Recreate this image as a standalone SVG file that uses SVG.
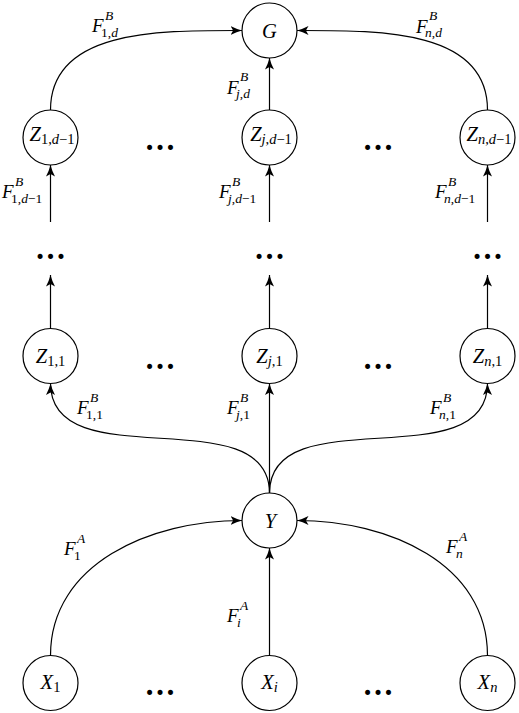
<svg xmlns="http://www.w3.org/2000/svg" width="519" height="713" viewBox="0 0 519 713">
<style>
.n{fill:#fff;stroke:#000;stroke-width:1.2}
.e{fill:none;stroke:#000;stroke-width:1.2;marker-end:url(#ah)}
text{font-family:"Liberation Serif","Times New Roman",serif;font-size:19px;fill:#000}
.nl{font-size:20.5px}
.it{font-style:italic}
.s{font-size:13.5px}
.ns{font-size:14.5px}
.m{text-anchor:middle}
.dots{font-family:"Liberation Serif",serif;font-weight:bold;font-size:31px;text-anchor:middle}
</style>
<defs>
<marker id="ah" markerUnits="userSpaceOnUse" markerWidth="12" markerHeight="10" viewBox="0 0 12 10" refX="11.5" refY="5" orient="auto">
<path d="M0,0.5 Q6,3.6 11.5,5 Q6,6.4 0,9.5 L2.6,5 Z" fill="#000"/>
</marker>
</defs>
<rect width="519" height="713" fill="#fff"/>
<g id="connectors">
<path class="e" d="M50.5,110 C50.5,28.8 160.8,30.5 242,30.5"/>
<path class="e" d="M487.5,110 C487.5,28.8 378.2,30.5 297,30.5"/>
<path class="e" d="M269.5,110 L269.5,58"/>
<path class="e" d="M50.5,222 L50.5,165"/>
<path class="e" d="M269.5,222 L269.5,165"/>
<path class="e" d="M487.5,222 L487.5,165"/>
<path class="e" d="M50.5,328.5 L50.5,275"/>
<path class="e" d="M269.5,328.5 L269.5,275"/>
<path class="e" d="M487.5,328.5 L487.5,275"/>
<path class="e" d="M269.5,493 C269.5,397.1 50.5,479.4 50.5,383.5"/>
<path class="e" d="M269.5,493 C269.5,397.1 487.5,479.4 487.5,383.5"/>
<path class="e" d="M269.5,493 L269.5,383.5"/>
<path class="e" d="M50.5,655.5 C50.5,563.8 150.3,520.5 242,520.5"/>
<path class="e" d="M487.5,655.5 C487.5,563.8 388.7,520.5 297,520.5"/>
<path class="e" d="M269.5,655.5 L269.5,548"/>
</g>
<g id="node-G"><circle class="n" cx="269.5" cy="30.5" r="27.5"/><text class="m it nl" x="269.5" y="37.5">G</text></g>
<g id="node-Z1d"><circle class="n" cx="50.5" cy="137.5" r="27.5"/><text class="m nl" x="52" y="141"><tspan class="it">Z</tspan><tspan class="ns" dy="3">1,<tspan class="it">d</tspan>−1</tspan></text></g>
<g id="node-Zjd"><circle class="n" cx="269.5" cy="137.5" r="27.5"/><text class="m nl" x="271" y="141"><tspan class="it">Z</tspan><tspan class="ns" dy="3"><tspan class="it">j</tspan>,<tspan class="it">d</tspan>−1</tspan></text></g>
<g id="node-Znd"><circle class="n" cx="487.5" cy="137.5" r="27.5"/><text class="m nl" x="489" y="141"><tspan class="it">Z</tspan><tspan class="ns" dy="3"><tspan class="it">n</tspan>,<tspan class="it">d</tspan>−1</tspan></text></g>
<g id="node-Z11"><circle class="n" cx="50.5" cy="356" r="27.5"/><text class="m nl" x="50.5" y="362.5"><tspan class="it">Z</tspan><tspan class="ns" dy="3">1,1</tspan></text></g>
<g id="node-Zj1"><circle class="n" cx="269.5" cy="356" r="27.5"/><text class="m nl" x="269.5" y="362.5"><tspan class="it">Z</tspan><tspan class="ns" dy="3"><tspan class="it">j</tspan>,1</tspan></text></g>
<g id="node-Zn1"><circle class="n" cx="487.5" cy="356" r="27.5"/><text class="m nl" x="487.5" y="362.5"><tspan class="it">Z</tspan><tspan class="ns" dy="3"><tspan class="it">n</tspan>,1</tspan></text></g>
<g id="node-Y"><circle class="n" cx="269.5" cy="520.5" r="27.5"/><text class="m it nl" x="270.5" y="527.5">Y</text></g>
<g id="node-X1"><circle class="n" cx="50.5" cy="683" r="27.5"/><text class="m nl" x="50.5" y="689"><tspan class="it">X</tspan><tspan class="ns" dy="3">1</tspan></text></g>
<g id="node-Xi"><circle class="n" cx="269.5" cy="683" r="27.5"/><text class="m nl" x="269.5" y="689"><tspan class="it">X</tspan><tspan class="ns it" dy="3">i</tspan></text></g>
<g id="node-Xn"><circle class="n" cx="487.5" cy="683" r="27.5"/><text class="m nl" x="487.5" y="689"><tspan class="it">X</tspan><tspan class="ns it" dy="3">n</tspan></text></g>
<g id="labels">
<text x="92" y="32"><tspan class="it">F</tspan><tspan class="s it" x="105" y="19.5">B</tspan><tspan class="s" x="101" y="36.5">1,<tspan class="it">d</tspan></tspan></text>
<text x="227" y="93.5"><tspan class="it">F</tspan><tspan class="s it" x="240" y="81">B</tspan><tspan class="s" x="236" y="98"><tspan class="it">j</tspan>,<tspan class="it">d</tspan></tspan></text>
<text x="416" y="32.5"><tspan class="it">F</tspan><tspan class="s it" x="429" y="20">B</tspan><tspan class="s" x="425" y="37"><tspan class="it">n</tspan>,<tspan class="it">d</tspan></tspan></text>
<text x="2" y="198"><tspan class="it">F</tspan><tspan class="s it" x="15" y="185.5">B</tspan><tspan class="s" x="11" y="202.5">1,<tspan class="it">d</tspan>−1</tspan></text>
<text x="219" y="198"><tspan class="it">F</tspan><tspan class="s it" x="232" y="185.5">B</tspan><tspan class="s" x="228" y="202.5"><tspan class="it">j</tspan>,<tspan class="it">d</tspan>−1</tspan></text>
<text x="435" y="198"><tspan class="it">F</tspan><tspan class="s it" x="448" y="185.5">B</tspan><tspan class="s" x="444" y="202.5"><tspan class="it">n</tspan>,<tspan class="it">d</tspan>−1</tspan></text>
<text x="77" y="414"><tspan class="it">F</tspan><tspan class="s it" x="90" y="401.5">B</tspan><tspan class="s" x="86" y="418.5">1,1</tspan></text>
<text x="227" y="414"><tspan class="it">F</tspan><tspan class="s it" x="240" y="401.5">B</tspan><tspan class="s" x="236" y="418.5"><tspan class="it">j</tspan>,1</tspan></text>
<text x="430" y="414"><tspan class="it">F</tspan><tspan class="s it" x="443" y="401.5">B</tspan><tspan class="s" x="439" y="418.5"><tspan class="it">n</tspan>,1</tspan></text>
<text x="64" y="555"><tspan class="it">F</tspan><tspan class="s it" x="77" y="542.5">A</tspan><tspan class="s" x="74" y="559.5">1</tspan></text>
<text x="227" y="622"><tspan class="it">F</tspan><tspan class="s it" x="240" y="609.5">A</tspan><tspan class="s it" x="237" y="626.5">i</tspan></text>
<text x="446" y="553"><tspan class="it">F</tspan><tspan class="s it" x="459" y="540.5">A</tspan><tspan class="s it" x="456" y="557.5">n</tspan></text>
</g>
<g id="ellipses">
<text class="dots" x="160" y="149.5">…</text>
<text class="dots" x="378" y="149.5">…</text>
<text class="dots" x="50.5" y="258.5">…</text>
<text class="dots" x="269.5" y="258.5">…</text>
<text class="dots" x="487.5" y="258.5">…</text>
<text class="dots" x="160" y="368.5">…</text>
<text class="dots" x="378" y="368.5">…</text>
<text class="dots" x="160" y="694.5">…</text>
<text class="dots" x="378" y="694.5">…</text>
</g>
</svg>
